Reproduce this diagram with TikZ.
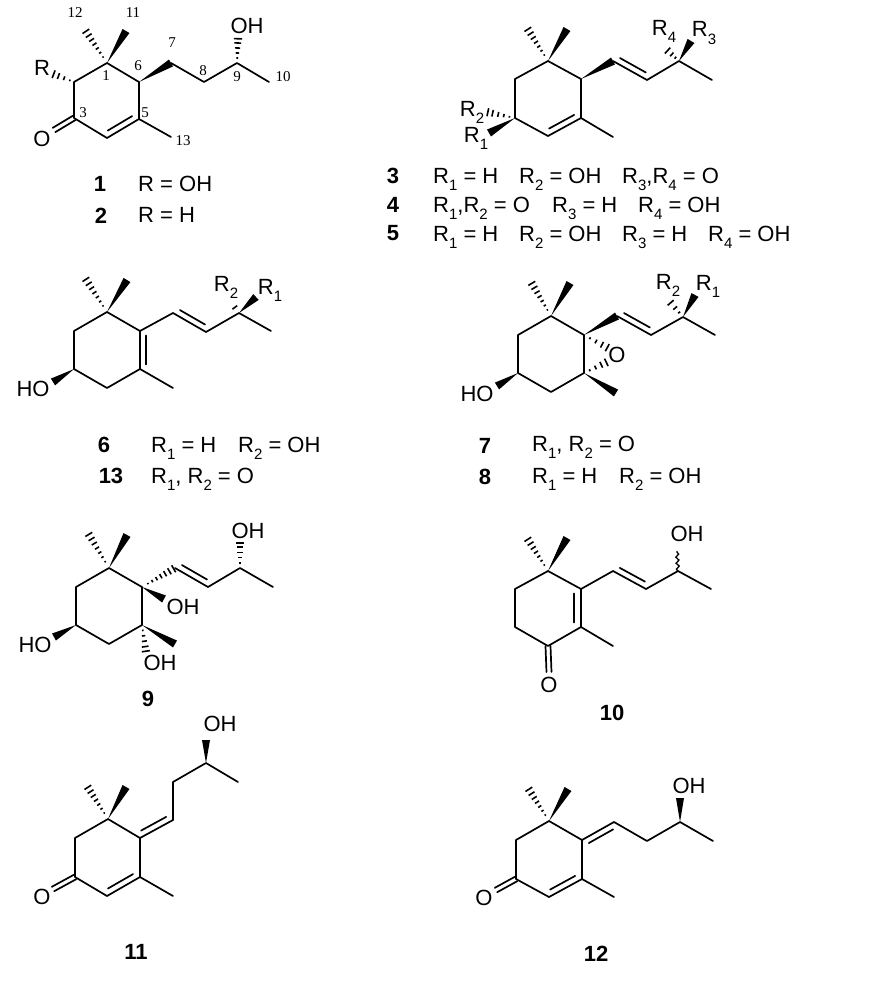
\documentclass[tikz,border=0pt]{standalone}
\usepackage{fontspec}
\setmainfont{Liberation Sans}
\newfontfamily\numfont{Liberation Serif}
\usetikzlibrary{calc,decorations.pathmorphing}
\newcommand{\Rn}[1]{R\raisebox{-0.32em}{\fontsize{15}{15}\selectfont #1}}
\tikzset{
  bond/.style = {line width=1.7pt, line cap=round, line join=round},
  atom/.style = {inner sep=0pt, font=\fontsize{22}{24}\selectfont},
  num/.style = {inner sep=0pt, font=\fontsize{15}{16}\selectfont\numfont},
  cpd/.style = {inner sep=0pt, font=\fontsize{22}{24}\selectfont\bfseries},
  capt/.style = {inner sep=0pt, anchor=base west, font=\fontsize{22}{24}\selectfont},
  wedgebond/.style = {to path={-- ($(\tikztotarget)!4pt!90:(\tikztostart)$) -- ($(\tikztotarget)!4pt!-90:(\tikztostart)$) -- cycle}},
  hashbond/.style = {line width=1.6pt, line cap=butt, to path={\foreach \t in {#1} {($(\tikztostart)!\t!(\tikztotarget)!{\t*4.2pt}!90:(\tikztotarget)$) -- ($(\tikztostart)!\t!(\tikztotarget)!{\t*4.2pt}!-90:(\tikztotarget)$)}}},
  hashbond/.default = {.18,.31,...,.97},
  dblbond/.style = {to path={-- (\tikztotarget) ($(\tikztostart)!.12!(\tikztotarget)!#1!90:(\tikztotarget)$) -- ($(\tikztotarget)!.12!(\tikztostart)!#1!-90:(\tikztostart)$)}},
  dblbond/.default = 6pt,
  eqbond/.style = {to path={($(\tikztostart)!2.5pt!90:(\tikztotarget)$) -- ($(\tikztotarget)!2.5pt!-90:(\tikztostart)$) ($(\tikztostart)!2.5pt!-90:(\tikztotarget)$) -- ($(\tikztotarget)!2.5pt!90:(\tikztostart)$)}},
}
\begin{document}
\begin{tikzpicture}[x=1pt, y=-1pt]
	\useasboundingbox (0,0) rectangle (884,996);

	% compounds 1, 2
	\coordinate (a1) at (107,63); \coordinate (a2) at (74,82); \coordinate (a3) at (74,118);
	\coordinate (a4) at (107,138); \coordinate (a5) at (139,119); \coordinate (a6) at (139,82);
	\coordinate (a7) at (171,63); \coordinate (a8) at (204,82); \coordinate (a9) at (237,63);
	\coordinate (a10) at (269,82); \coordinate (a11) at (126,31); \coordinate (a12) at (85,30);
	\coordinate (a13) at (171,137); \coordinate (aR) at (53,74); \coordinate (aOH) at (238,38);
	\coordinate (aOx) at (54,130);
	\node[atom] (aRl) at (42,68) {R};
	\node[atom] (aOl) at (42,139) {O};
	\node[atom] (aOHl) at (247,26) {OH};
	\node[num] (an12) at (75,13) {12};
	\node[num] (an11) at (133,13) {11};
	\node[num] (an1) at (106,76) {1};
	\node[num] (an6) at (138,66) {6};
	\node[num] (an7) at (172,43) {7};
	\node[num] (an8) at (203,71) {8};
	\node[num] (an9) at (237,77) {9};
	\node[num] (an10) at (283,77) {10};
	\node[num] (an3) at (83,113) {3};
	\node[num] (an5) at (145,113) {5};
	\node[num] (an13) at (183,141) {13};
	\draw[bond] (a1) -- (a2) -- (a3) -- (a4);
	\draw[bond] (a5) -- (a6) -- (a1);
	\draw[bond, dblbond] (a4) to (a5);
	\draw[bond] (a5) -- (a13);
	\draw[bond] (a7) -- (a8) -- (a9) -- (a10);
	\draw[bond, eqbond] (a3) to (aOx);
	\fill[wedgebond] (a1) to (a11);
	\fill[wedgebond] (a6) to (a7);
	\draw[bond, hashbond] (a1) to (a12);
	\draw[bond, hashbond={.2,.47,.74,.97}] (a2) to (aR);
	\draw[bond, hashbond={.2,.4,.6,.8,.97}] (a9) to (aOH);
	\node[cpd] (acpd1) at (100,184) {1};
	\node[capt] (acap1) at (138,191) {R = OH};
	\node[cpd] (acpd2) at (101,216) {2};
	\node[capt] (acap2) at (138,222) {R = H};

	% compounds 3, 4, 5
	\coordinate (b1) at (548,61); \coordinate (b2) at (515,79); \coordinate (b3) at (515,118);
	\coordinate (b4) at (548,136); \coordinate (b5) at (581,118); \coordinate (b6) at (581,79);
	\coordinate (b7) at (613,61); \coordinate (b8) at (647,80); \coordinate (b9) at (679,61);
	\coordinate (b10) at (712,80); \coordinate (b11) at (567,29); \coordinate (b12) at (527,28);
	\coordinate (b13) at (613,137); \coordinate (bR1) at (489,133); \coordinate (bR2) at (487,112);
	\coordinate (bR3) at (691,41); \coordinate (bR4) at (667,50);
	\node[atom] (bR1l) at (476,138) {\Rn{1}};
	\node[atom] (bR2l) at (472,112) {\Rn{2}};
	\node[atom] (bR3l) at (704,33) {\Rn{3}};
	\node[atom] (bR4l) at (664,31) {\Rn{4}};
	\draw[bond] (b1) -- (b2) -- (b3) -- (b4);
	\draw[bond] (b5) -- (b6) -- (b1);
	\draw[bond, dblbond] (b4) to (b5);
	\draw[bond] (b5) -- (b13);
	\draw[bond, dblbond] (b7) to (b8);
	\draw[bond] (b8) -- (b9) -- (b10);
	\fill[wedgebond] (b1) to (b11);
	\fill[wedgebond] (b6) to (b7);
	\fill[wedgebond] (b9) to (bR3);
	\fill[wedgebond] (b3) to (bR1);
	\draw[bond, hashbond] (b1) to (b12);
	\draw[bond, hashbond={.2,.4,.6,.8,.97}] (b3) to (bR2);
	\draw[bond, hashbond={.3,.6,.95}] (b9) to (bR4);
	\node[cpd] (bcpd3) at (393,176) {3};
	\node[capt] (bcap3a) at (433,183) {\Rn{1} = H};
	\node[capt] (bcap3b) at (519,183) {\Rn{2} = OH};
	\node[capt] (bcap3c) at (622,183) {\Rn{3},\Rn{4} = O};
	\node[cpd] (bcpd4) at (393,205) {4};
	\node[capt] (bcap4a) at (433,212) {\Rn{1},\Rn{2} = O};
	\node[capt] (bcap4b) at (552,212) {\Rn{3} = H};
	\node[capt] (bcap4c) at (638,212) {\Rn{4} = OH};
	\node[cpd] (bcpd5) at (393,233) {5};
	\node[capt] (bcap5a) at (433,241) {\Rn{1} = H};
	\node[capt] (bcap5b) at (519,241) {\Rn{2} = OH};
	\node[capt] (bcap5c) at (622,241) {\Rn{3} = H};
	\node[capt] (bcap5d) at (708,241) {\Rn{4} = OH};

	% compounds 6, 13
	\coordinate (c1) at (107,312); \coordinate (c2) at (74,331); \coordinate (c3) at (74,369);
	\coordinate (c4) at (107,388); \coordinate (c5) at (140,369); \coordinate (c6) at (140,331);
	\coordinate (c7) at (173,313); \coordinate (c8) at (206,332); \coordinate (c9) at (239,313);
	\coordinate (c10) at (271,331); \coordinate (c11) at (127,280); \coordinate (c12) at (85,278);
	\coordinate (c13) at (173,388); \coordinate (cR1) at (256,297); \coordinate (cR2) at (233,305);
	\coordinate (cHO) at (53,382);
	\node[atom] (cR1l) at (270,290) {\Rn{1}};
	\node[atom] (cR2l) at (226,287) {\Rn{2}};
	\node[atom] (cHOl) at (33,389) {HO};
	\draw[bond] (c1) -- (c2) -- (c3) -- (c4) -- (c5);
	\draw[bond] (c6) -- (c1);
	\draw[bond, dblbond] (c6) to (c5);
	\draw[bond] (c5) -- (c13);
	\draw[bond] (c6) -- (c7);
	\draw[bond, dblbond] (c7) to (c8);
	\draw[bond] (c8) -- (c9) -- (c10);
	\fill[wedgebond] (c1) to (c11);
	\fill[wedgebond] (c9) to (cR1);
	\fill[wedgebond] (c3) to (cHO);
	\draw[bond, hashbond] (c1) to (c12);
	\draw[bond, hashbond={.7}] (c9) to (cR2);
	\node[cpd] (ccpd6) at (104,445) {6};
	\node[capt] (ccap6a) at (151,452) {\Rn{1} = H};
	\node[capt] (ccap6b) at (238,452) {\Rn{2} = OH};
	\node[cpd] (ccpd13) at (111,476) {13};
	\node[capt] (ccap13) at (151,483) {\Rn{1}, \Rn{2} = O};

	% compounds 7, 8
	\coordinate (d1) at (551,316); \coordinate (d2) at (518,335); \coordinate (d3) at (518,373);
	\coordinate (d4) at (551,392); \coordinate (d5) at (584,373); \coordinate (d6) at (584,335);
	\coordinate (d7) at (617,316); \coordinate (d8) at (651,335); \coordinate (d9) at (683,317);
	\coordinate (d10) at (715,335); \coordinate (d11) at (570,283); \coordinate (d12) at (531,282);
	\coordinate (d13) at (616,393); \coordinate (dR1) at (695,295); \coordinate (dR2) at (670,302);
	\coordinate (dHO) at (497,386); \coordinate (dOa) at (608,348); \coordinate (dOb) at (607,362);
	\node[atom] (dR1l) at (708,286) {\Rn{1}};
	\node[atom] (dR2l) at (668,285) {\Rn{2}};
	\node[atom] (dOl) at (617,355) {O};
	\node[atom] (dHOl) at (477,394) {HO};
	\draw[bond] (d1) -- (d2) -- (d3) -- (d4) -- (d5) -- (d6) -- (d1);
	\draw[bond, dblbond] (d7) to (d8);
	\draw[bond] (d8) -- (d9) -- (d10);
	\fill[wedgebond] (d1) to (d11);
	\fill[wedgebond] (d6) to (d7);
	\fill[wedgebond] (d9) to (dR1);
	\fill[wedgebond] (d5) to (d13);
	\fill[wedgebond] (d3) to (dHO);
	\draw[bond, hashbond] (d1) to (d12);
	\draw[bond, hashbond={.3,.6,.95}] (d9) to (dR2);
	\draw[bond, hashbond={.25,.5,.75,.97}] (d6) to (dOa);
	\draw[bond, hashbond={.25,.5,.75,.97}] (d5) to (dOb);
	\node[cpd] (dcpd7) at (485,446) {7};
	\node[capt] (dcap7) at (532,451) {\Rn{1}, \Rn{2} = O};
	\node[cpd] (dcpd8) at (485,477) {8};
	\node[capt] (dcap8a) at (532,483) {\Rn{1} = H};
	\node[capt] (dcap8b) at (619,483) {\Rn{2} = OH};

	% compound 9
	\coordinate (e1) at (109,568); \coordinate (e2) at (76,587); \coordinate (e3) at (76,625);
	\coordinate (e4) at (109,644); \coordinate (e5) at (142,625); \coordinate (e6) at (142,587);
	\coordinate (e7) at (175,568); \coordinate (e8) at (208,587); \coordinate (e9) at (240,568);
	\coordinate (e10) at (273,587); \coordinate (e11) at (127,535); \coordinate (e12) at (88,533);
	\coordinate (e13) at (175,644); \coordinate (eHOa) at (54,637); \coordinate (eOHb) at (164,599);
	\coordinate (eOHc) at (146,652); \coordinate (eOHd) at (240,542);
	\node[atom] (eHOal) at (35,645) {HO};
	\node[atom] (eOHbl) at (183,607) {OH};
	\node[atom] (eOHcl) at (160,663) {OH};
	\node[atom] (eOHdl) at (248,531) {OH};
	\draw[bond] (e1) -- (e2) -- (e3) -- (e4) -- (e5) -- (e6) -- (e1);
	\draw[bond, dblbond] (e7) to (e8);
	\draw[bond] (e8) -- (e9) -- (e10);
	\fill[wedgebond] (e1) to (e11);
	\fill[wedgebond] (e6) to (eOHb);
	\fill[wedgebond] (e5) to (e13);
	\fill[wedgebond] (e3) to (eHOa);
	\draw[bond, hashbond] (e1) to (e12);
	\draw[bond, hashbond] (e6) to (e7);
	\draw[bond, hashbond={.2,.4,.6,.8,.97}] (e5) to (eOHc);
	\draw[bond, hashbond={.2,.4,.6,.8,.97}] (e9) to (eOHd);
	\node[cpd] (ecpd9) at (148,699) {9};

	% compound 10
	\coordinate (f1) at (548,571); \coordinate (f2) at (515,589); \coordinate (f3) at (515,627);
	\coordinate (f4) at (548,646); \coordinate (f5) at (581,627); \coordinate (f6) at (581,589);
	\coordinate (f7) at (613,571); \coordinate (f8) at (646,589); \coordinate (f9) at (678,571);
	\coordinate (f10) at (711,589); \coordinate (f11) at (567,538); \coordinate (f12) at (527,538);
	\coordinate (f13) at (613,646); \coordinate (fOH) at (677,551); \coordinate (fOx) at (549,672);
	\node[atom] (fOHl) at (687,534) {OH};
	\node[atom] (fOl) at (549,685) {O};
	\draw[bond] (f1) -- (f2) -- (f3) -- (f4) -- (f5);
	\draw[bond] (f6) -- (f1);
	\draw[bond, dblbond=-7pt] (f6) to (f5);
	\draw[bond] (f5) -- (f13);
	\draw[bond] (f6) -- (f7);
	\draw[bond, dblbond] (f7) to (f8);
	\draw[bond] (f8) -- (f9) -- (f10);
	\draw[bond, eqbond] (f4) to (fOx);
	\fill[wedgebond] (f1) to (f11);
	\draw[bond, hashbond] (f1) to (f12);
	\draw[line width=1.3pt, decorate, decoration={snake, amplitude=1.5pt, segment length=6pt}] (f9) -- (fOH);
	\node[cpd] (fcpd10) at (612,713) {10};

	% compound 11
	\coordinate (g1) at (108,819); \coordinate (g2) at (75,838); \coordinate (g3) at (75,877);
	\coordinate (g4) at (107,896); \coordinate (g5) at (140,877); \coordinate (g6) at (140,838);
	\coordinate (g7) at (173,820); \coordinate (g8) at (173,782); \coordinate (g9) at (206,763);
	\coordinate (g10) at (238,782); \coordinate (g11) at (126,787); \coordinate (g12) at (87,786);
	\coordinate (g13) at (173,896); \coordinate (gOH) at (206,740); \coordinate (gOx) at (53,889);
	\node[atom] (gOHl) at (220,724) {OH};
	\node[atom] (gOl) at (42,897) {O};
	\draw[bond] (g1) -- (g2) -- (g3) -- (g4);
	\draw[bond] (g5) -- (g6) -- (g1);
	\draw[bond, dblbond] (g4) to (g5);
	\draw[bond] (g5) -- (g13);
	\draw[bond, dblbond] (g6) to (g7);
	\draw[bond] (g7) -- (g8) -- (g9) -- (g10);
	\draw[bond, eqbond] (g3) to (gOx);
	\fill[wedgebond] (g1) to (g11);
	\fill[wedgebond] (g9) to (gOH);
	\draw[bond, hashbond] (g1) to (g12);
	\node[cpd] (gcpd11) at (136,952) {11};

	% compound 12
	\coordinate (h1) at (549,821); \coordinate (h2) at (516,840); \coordinate (h3) at (516,879);
	\coordinate (h4) at (549,897); \coordinate (h5) at (582,879); \coordinate (h6) at (582,840);
	\coordinate (h7) at (614,822); \coordinate (h8) at (647,841); \coordinate (h9) at (680,822);
	\coordinate (h10) at (713,841); \coordinate (h11) at (568,789); \coordinate (h12) at (528,788);
	\coordinate (h13) at (614,897); \coordinate (hOH) at (680,798); \coordinate (hOx) at (496,890);
	\node[atom] (hOHl) at (689,786) {OH};
	\node[atom] (hOl) at (484,898) {O};
	\draw[bond] (h1) -- (h2) -- (h3) -- (h4);
	\draw[bond] (h5) -- (h6) -- (h1);
	\draw[bond, dblbond] (h4) to (h5);
	\draw[bond] (h5) -- (h13);
	\draw[bond, dblbond=-6pt] (h6) to (h7);
	\draw[bond] (h7) -- (h8) -- (h9) -- (h10);
	\draw[bond, eqbond] (h3) to (hOx);
	\fill[wedgebond] (h1) to (h11);
	\fill[wedgebond] (h9) to (hOH);
	\draw[bond, hashbond] (h1) to (h12);
	\node[cpd] (hcpd12) at (596,954) {12};
\end{tikzpicture}
\end{document}
